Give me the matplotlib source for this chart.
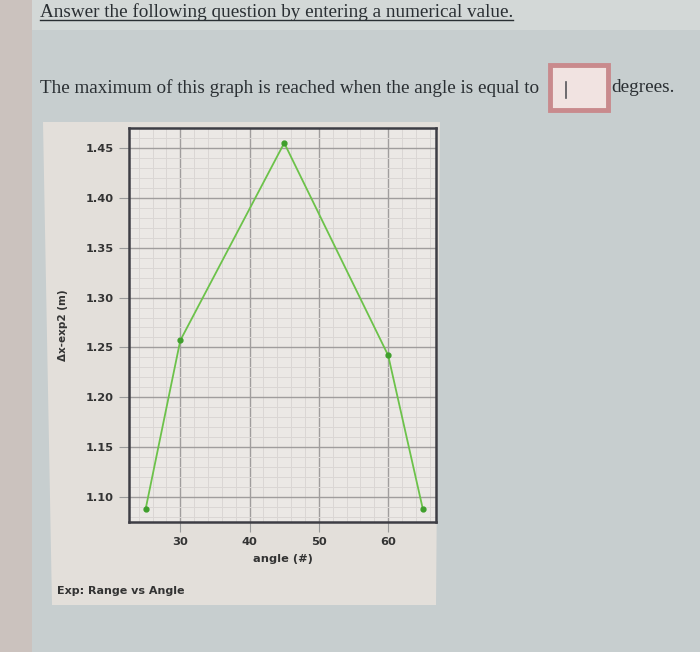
import numpy as np
import matplotlib
matplotlib.use("Agg")
import matplotlib.pyplot as plt
from matplotlib.patches import Polygon, Rectangle
from matplotlib.lines import Line2D
from matplotlib.ticker import MultipleLocator, FixedLocator

# data
angle = [25, 30, 45, 60, 65]
range_m = [1.088, 1.257, 1.455, 1.242, 1.088]
x_ticks = [30, 40, 50, 60]
y_ticks = [1.10, 1.15, 1.20, 1.25, 1.30, 1.35, 1.40, 1.45]

question_head = "Answer the following question by entering a numerical value."
question = "The maximum of this graph is reached when the angle is equal to"
unit = "degrees."

W, H = 700, 652


def fx(px):
    return px / W


def fy(py):
    return 1 - py / H


fig = plt.figure(figsize=(7, 6.52), dpi=100)
fig.patch.set_facecolor("#c7cecf")

# photo background bits
fig.patches.append(Rectangle((0, 0), fx(32), 1, transform=fig.transFigure,
                             facecolor="#cbc2be", edgecolor="none", zorder=0))
fig.patches.append(Rectangle((fx(32), fy(30)), 1, fy(0) - fy(30), transform=fig.transFigure,
                             facecolor="#d3d8d7", edgecolor="none", zorder=0))

# chart panel
panel = [(fx(43), fy(122)), (fx(440), fy(122)), (fx(436), fy(605)), (fx(52), fy(605))]
fig.patches.append(Polygon(panel, closed=True, transform=fig.transFigure,
                           facecolor="#e3dfda", edgecolor="none", zorder=1))

# question text
serif = ["Liberation Serif", "DejaVu Serif"]
t1 = fig.text(fx(40), fy(12), question_head, family=serif, fontsize=13.8,
              color="#2a2f33", va="center", ha="left")
fig.text(fx(40), fy(88), question, family=serif, fontsize=13.8,
         color="#2a2f33", va="center", ha="left")
fig.text(fx(611), fy(88), unit, family=serif, fontsize=13.8,
         color="#2a2f33", va="center", ha="left")

# answer box
fig.patches.append(Rectangle((fx(550), fy(110)), fx(58), fy(65) - fy(110),
                             transform=fig.transFigure, facecolor="#f1e3e1",
                             edgecolor="#c98a8d", linewidth=3.5, zorder=2))
fig.lines.append(Line2D([fx(566), fx(566)], [fy(82), fy(98)], transform=fig.transFigure,
                        color="#55555a", linewidth=1.2, zorder=3))

# underline of first line
fig.canvas.draw()
bb = t1.get_window_extent()
uy = bb.y0 + 1
fig.lines.append(Line2D([bb.x0 / W, bb.x1 / W], [uy / H, uy / H], transform=fig.transFigure,
                        color="#2a2f33", linewidth=1.0))

# the chart itself
ax = fig.add_axes([fx(129), fy(522), fx(436) - fx(129), fy(128) - fy(522)])
ax.set_zorder(5)
ax.set_facecolor("#ebe8e5")
ax.plot(angle, range_m, color="#6cc24a", linewidth=1.3, marker="o",
        markersize=3.5, markerfacecolor="#3f9f2c", markeredgecolor="#3f9f2c", zorder=3)

ax.set_xlim(22.6, 66.9)
ax.set_ylim(1.075, 1.470)
ax.xaxis.set_major_locator(FixedLocator(x_ticks))
ax.yaxis.set_major_locator(FixedLocator(y_ticks))
ax.xaxis.set_minor_locator(MultipleLocator(2))
ax.yaxis.set_minor_locator(MultipleLocator(0.01))
ax.set_yticklabels([f"{v:.2f}" for v in y_ticks])

ax.grid(which="major", color="#a09d9d", linewidth=1.0)
ax.grid(which="minor", color="#dad6d4", linewidth=0.7)
ax.set_axisbelow(True)

for s in ax.spines.values():
    s.set_color("#3d3d44")
    s.set_linewidth(1.8)

ax.tick_params(which="major", length=7, width=0.8, color="#9a9a9a",
               labelsize=8.2, labelcolor="#333333", pad=4)
ax.tick_params(which="minor", length=0)
for lab in ax.get_xticklabels() + ax.get_yticklabels():
    lab.set_fontweight("bold")

ax.set_xlabel("angle (#)", fontsize=8.2, color="#333333", fontweight="bold", labelpad=5)
fig.text(fx(63), fy(325), "Δx-exp2 (m)", rotation=90, fontsize=7.5, color="#333333",
         fontweight="bold", ha="center", va="center")
fig.text(fx(57), fy(591), "Exp: Range vs Angle", fontsize=8, color="#333333",
         fontweight="bold", ha="left", va="center")

fig.savefig("out.png", dpi=100, facecolor=fig.get_facecolor())
